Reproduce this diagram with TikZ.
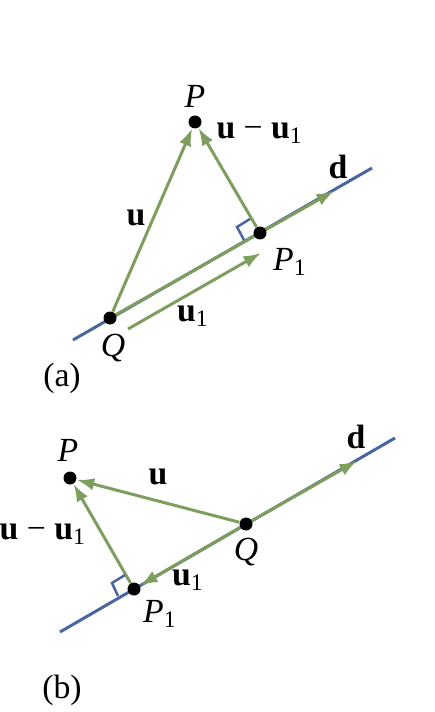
\documentclass[tikz,border=0pt]{standalone}
\usepackage{fontspec}
\setmainfont{Liberation Serif}
\usetikzlibrary{arrows.meta,backgrounds}
\definecolor{vecgreen}{RGB}{125,158,92}
\definecolor{lineblue}{RGB}{74,102,160}
\begin{document}
\begin{tikzpicture}[
        x=0.4pt, y=-0.4pt,
        dot/.style={circle, fill=black, inner sep=0pt, minimum size=5.2pt},
        vec/.style={draw=vecgreen, line width=1.2pt, -{Latex[length=7pt,width=5pt]}},
        axis/.style={draw=lineblue, line width=1.2pt},
        rangle/.style={draw=lineblue, line width=1pt},
        lbl/.style={inner sep=0pt, font=\fontsize{13.5}{16}\selectfont}
    ]
    \useasboundingbox (0,0) rectangle (434,712);
    % (a)
    \coordinate (la1) at (73,340);
    \coordinate (la2) at (372,168);
    \coordinate (da) at (334,191);
    \coordinate (ua1) at (128,329);
    \coordinate (ua2) at (261,253);
    \node[dot] (Qa) at (110,318) {};
    \node[dot] (P1a) at (260,233) {};
    \node[dot] (Pa) at (195,122) {};
    \begin{scope}[on background layer]
        \draw[axis] (la1) -- (la2);
        \draw[vec] (Qa.center) -- (da);
        \draw[vec] (Qa) -- (Pa);
        \draw[vec] (P1a) -- (Pa);
        \draw[vec] (ua1) -- (ua2);
        \draw[rangle] (244,240) -- (237,227) -- (250,219);
    \end{scope}
    \node[lbl] (lPa) at (195,96) {\textit{P}};
    \node[lbl] (lda) at (338,167) {\textbf{d}};
    \node[lbl] (lua) at (136,218) {\textbf{u}};
    \node[lbl, anchor=west] (ldiffa) at (216,133) {\textbf{u} − \textbf{u}\textsubscript{1}};
    \node[lbl] (lP1a) at (290,262) {\textit{P}\textsubscript{1}};
    \node[lbl] (lu1a) at (193,316) {\textbf{u}\textsubscript{1}};
    \node[lbl] (lQa) at (113,348) {\textit{Q}};
    \node[lbl] (capa) at (62,378) {(a)};
    % (b)
    \coordinate (lb1) at (60,632);
    \coordinate (lb2) at (395,438);
    \coordinate (db) at (357,461);
    \node[dot] (Qb) at (246,524) {};
    \node[dot] (P1b) at (134,589) {};
    \node[dot] (Pb) at (70,478) {};
    \begin{scope}[on background layer]
        \draw[axis] (lb1) -- (lb2);
        \draw[vec] (Qb.center) -- (db);
        \draw[vec] (Qb) -- (P1b);
        \draw[vec] (Qb) -- (Pb);
        \draw[vec] (P1b) -- (Pb);
        \draw[rangle] (118,596) -- (112,583) -- (125,575);
    \end{scope}
    \node[lbl] (lPb) at (68,450) {\textit{P}};
    \node[lbl] (lub) at (158,477) {\textbf{u}};
    \node[lbl] (ldb) at (356,437) {\textbf{d}};
    \node[lbl] (ldiffb) at (43,534) {\textbf{u} − \textbf{u}\textsubscript{1}};
    \node[lbl] (lQb) at (246,552) {\textit{Q}};
    \node[lbl] (lu1b) at (188,580) {\textbf{u}\textsubscript{1}};
    \node[lbl] (lP1b) at (160,614) {\textit{P}\textsubscript{1}};
    \node[lbl] (capb) at (62,690) {(b)};
\end{tikzpicture}
\end{document}
